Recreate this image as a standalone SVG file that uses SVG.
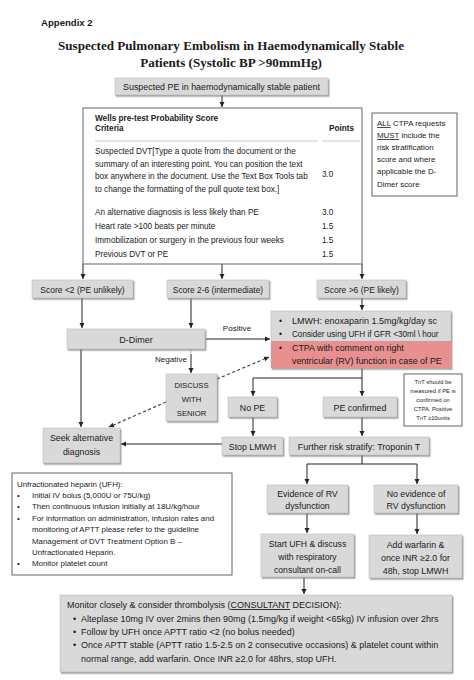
<svg xmlns="http://www.w3.org/2000/svg" width="474" height="680" viewBox="0 0 474 680">
<style>
text{font-family:"Liberation Sans","Noto Sans",sans-serif;fill:#1a1a1a;font-size:8.8px}
.c{text-anchor:middle}
.box{fill:#d9d9d9;stroke:#bdbdbd;stroke-width:0.6}
.wbox{fill:#fff;stroke:#555;stroke-width:0.9}
.ln{stroke:#222;stroke-width:1;fill:none}
.dash{stroke:#444;stroke-width:1.2;fill:none;stroke-dasharray:3 2.5}
.dot{stroke:#555;stroke-width:1;fill:none;stroke-dasharray:1 1.5}
.w{font-size:8.2px}
.n{font-size:7.9px}
.u{font-size:7.9px}
.lab{font-size:8.1px}
.s6{font-size:5.8px}
.m{font-size:9px}
</style>
<defs>
<marker id="ah" markerWidth="6" markerHeight="6" refX="5" refY="3" orient="auto" markerUnits="userSpaceOnUse">
<path d="M0,0.5 L5,3 L0,5.5 Z" fill="#222"/>
</marker>
<filter id="sh" x="-10%" y="-10%" width="130%" height="140%">
<feDropShadow dx="1.2" dy="1.5" stdDeviation="0.7" flood-color="#777" flood-opacity="0.7"/>
</filter>
</defs>
<rect width="474" height="680" fill="#fff"/>

<g id="title">
<text x="41" y="26" style="font-weight:bold;font-size:9.6px">Appendix 2</text>
<text x="231" y="50" class="c" style="font-family:'Liberation Serif',serif;font-weight:bold;font-size:13.1px">Suspected Pulmonary Embolism in Haemodynamically Stable</text>
<text x="231" y="67" class="c" style="font-family:'Liberation Serif',serif;font-weight:bold;font-size:13.1px">Patients (Systolic BP &gt;90mmHg)</text>
</g>

<g id="connectors">
<path class="ln" d="M222,95 V107" marker-end="url(#ah)"/>
<path class="ln" d="M83,264 V279" marker-end="url(#ah)"/>
<path class="ln" d="M222,255 V279" marker-end="url(#ah)"/>
<path class="ln" d="M362,264 V279" marker-end="url(#ah)"/>
<path class="ln" d="M82,298 V328" marker-end="url(#ah)"/>
<path class="ln" d="M191,298 V328" marker-end="url(#ah)"/>
<path class="dot" d="M191,329 V354"/>
<path class="ln" d="M191,354 V373" marker-end="url(#ah)"/>
<path class="ln" d="M81,349 V427" marker-end="url(#ah)"/>
<path class="ln" d="M205,339 H270" marker-end="url(#ah)"/>
<path class="dash" d="M217,379 L269,357" marker-end="url(#ah)"/>
<path class="dash" d="M166,402 L109,427" marker-end="url(#ah)"/>
<path class="ln" d="M362,298 V310" marker-end="url(#ah)"/>
<path class="ln" d="M362,368 V396" marker-end="url(#ah)"/>
<path class="ln" d="M362,378 H253 V396" marker-end="url(#ah)"/>
<path class="ln" d="M253,417 V436" marker-end="url(#ah)"/>
<path class="ln" d="M222,444 H121" marker-end="url(#ah)"/>
<path class="ln" d="M362,417 V436" marker-end="url(#ah)"/>
<path class="ln" d="M362,455 V464"/>
<path class="ln" d="M307,464 H417"/>
<path class="ln" d="M307,464 V484" marker-end="url(#ah)"/>
<path class="ln" d="M417,464 V484" marker-end="url(#ah)"/>
<path class="ln" d="M307,513 V533" marker-end="url(#ah)"/>
<path class="ln" d="M417,513 V534" marker-end="url(#ah)"/>
<path class="ln" d="M304,577 V594" marker-end="url(#ah)"/>
<text x="237" y="331" class="c lab">Positive</text>
<text x="171" y="362" class="c lab">Negative</text>
</g>

<g id="start">
<rect x="115" y="78" width="213" height="17" class="box" filter="url(#sh)"/>
<text x="221.5" y="89.8" class="c" style="font-size:8.9px">Suspected PE in haemodynamically stable patient</text>
</g>

<g id="wells">
<rect x="83" y="108" width="279" height="156" class="wbox"/>
<text x="95" y="121" class="w" style="font-weight:bold">Wells pre-test Probability Score</text>
<text x="95" y="131" class="w" style="font-weight:bold">Criteria</text>
<text x="329" y="131" class="w" style="font-weight:bold">Points</text>
<path d="M95,141 H318 M322,141 H360" stroke="#bbb" stroke-width="0.8"/>
<text x="95" y="154" class="w">Suspected DVT[Type a quote from the document or the</text>
<text x="95" y="166.5" class="w">summary of an interesting point. You can position the text</text>
<text x="95" y="179" class="w">box anywhere in the document. Use the Text Box Tools tab</text>
<text x="95" y="191.5" class="w">to change the formatting of the pull quote text box.]</text>
<text x="322" y="177" class="w">3.0</text>
<text x="95" y="215" class="w">An alternative diagnosis is less likely than PE</text>
<text x="322" y="215" class="w">3.0</text>
<text x="95" y="229" class="w">Heart rate &gt;100 beats per minute</text>
<text x="322" y="229" class="w">1.5</text>
<text x="95" y="243" class="w">Immobilization or surgery in the previous four weeks</text>
<text x="322" y="243" class="w">1.5</text>
<text x="95" y="257" class="w">Previous DVT or PE</text>
<text x="322" y="257" class="w">1.5</text>
</g>

<g id="ctpa-note">
<rect x="372" y="113" width="85" height="83" class="wbox"/>
<text x="377" y="126" class="n"><tspan text-decoration="underline">ALL</tspan> CTPA requests</text>
<text x="377" y="138" class="n"><tspan text-decoration="underline">MUST</tspan> include  the</text>
<text x="377" y="150" class="n">risk stratification</text>
<text x="377" y="162" class="n">score and where</text>
<text x="377" y="174" class="n">applicable the D-</text>
<text x="377" y="187" class="n">Dimer score</text>
</g>

<g id="score-low">
<rect x="32" y="280" width="101" height="18" class="box" filter="url(#sh)"/>
<text x="82.5" y="292.5" class="c" style="font-size:8.5px">Score &lt;2 (PE unlikely)</text>
</g>
<g id="score-mid">
<rect x="167" y="280" width="102" height="18" class="box" filter="url(#sh)"/>
<text x="218" y="292.5" class="c" style="font-size:8.4px">Score 2-6 (intermediate)</text>
</g>
<g id="score-high">
<rect x="317" y="280" width="89" height="18" class="box" filter="url(#sh)"/>
<text x="361.5" y="292.5" class="c" style="font-size:8.5px">Score &gt;6 (PE likely)</text>
</g>

<g id="ddimer">
<rect x="67" y="329" width="138" height="20" class="box" filter="url(#sh)"/>
<text x="136" y="342.5" class="c" style="font-size:9px">D-Dimer</text>
</g>

<g id="lmwh">
<rect x="271" y="311" width="180" height="57" class="box" filter="url(#sh)"/>
<rect x="271" y="341" width="180" height="27" fill="#e88f8f"/>
<text x="279" y="323.5" style="font-size:8.5px">•</text>
<text x="292" y="323.5" style="font-size:9px">LMWH: enoxaparin 1.5mg/kg/day sc</text>
<text x="279" y="336.5" style="font-size:8.5px">•</text>
<text x="292" y="336.5" style="font-size:8.15px">Consider using UFH if GFR &lt;30ml \ hour</text>
<text x="279" y="350.5" style="font-size:8.5px">•</text>
<text x="292" y="350.5" style="font-size:8.9px">CTPA with comment on right</text>
<text x="292" y="363.5" style="font-size:8.9px">ventricular (RV) function in case of PE</text>
</g>

<g id="discuss">
<rect x="166" y="374" width="51" height="47" class="box" filter="url(#sh)"/>
<text x="191.5" y="387.5" class="c" style="font-size:7.7px">DISCUSS</text>
<text x="191.5" y="401.5" class="c" style="font-size:7.7px">WITH</text>
<text x="191.5" y="415.5" class="c" style="font-size:7.7px">SENIOR</text>
</g>

<g id="seek">
<rect x="43" y="428" width="77" height="35" class="box" filter="url(#sh)"/>
<text x="81.5" y="441" class="c">Seek alternative</text>
<text x="81.5" y="455" class="c">diagnosis</text>
</g>

<g id="no-pe">
<rect x="228" y="397" width="49" height="20" class="box" filter="url(#sh)"/>
<text x="252.5" y="410.5" class="c">No PE</text>
</g>

<g id="pe-confirmed">
<rect x="323" y="397" width="74" height="20" class="box" filter="url(#sh)"/>
<text x="360" y="410.5" class="c">PE confirmed</text>
</g>

<g id="tnt-note">
<rect x="404" y="374" width="58" height="52" class="wbox"/>
<text x="433" y="383.5" class="c s6">TnT should be</text>
<text x="433" y="392.5" class="c s6">measured if PE is</text>
<text x="433" y="401.5" class="c s6">confirmed on</text>
<text x="433" y="410.5" class="c s6">CTPA. Positive</text>
<text x="433" y="419.5" class="c s6">TnT ≥10units</text>
</g>

<g id="stop-lmwh">
<rect x="222" y="437" width="61" height="18" class="box" filter="url(#sh)"/>
<text x="252.5" y="449.5" class="c">Stop LMWH</text>
</g>

<g id="troponin">
<rect x="289" y="437" width="140" height="18" class="box" filter="url(#sh)"/>
<text x="359" y="449.5" class="c" style="font-size:9px">Further risk stratify: Troponin T</text>
</g>

<g id="rv-yes">
<rect x="267" y="485" width="81" height="28" class="box" filter="url(#sh)"/>
<text x="307.5" y="496.5" class="c">Evidence of RV</text>
<text x="307.5" y="509" class="c">dysfunction</text>
</g>

<g id="rv-no">
<rect x="374" y="485" width="84" height="28" class="box" filter="url(#sh)"/>
<text x="416" y="496.5" class="c">No evidence of</text>
<text x="416" y="509" class="c">RV dysfunction</text>
</g>

<g id="start-ufh">
<rect x="261" y="534" width="93" height="43" class="box" filter="url(#sh)"/>
<text x="307.5" y="546.5" class="c" style="font-size:8.6px">Start UFH &amp; discuss</text>
<text x="307.5" y="560" class="c" style="font-size:8.6px">with respiratory</text>
<text x="307.5" y="573" class="c" style="font-size:8.6px">consultant on-call</text>
</g>

<g id="warfarin">
<rect x="369" y="535" width="93" height="43" class="box" filter="url(#sh)"/>
<text x="415.5" y="547.5" class="c">Add warfarin &amp;</text>
<text x="415.5" y="561" class="c">once INR ≥2.0 for</text>
<text x="415.5" y="574" class="c">48h, stop LMWH</text>
</g>

<g id="ufh-info">
<rect x="12" y="473" width="220" height="102" class="wbox"/>
<text x="17" y="487" class="u">Unfractionated heparin (UFH):</text>
<text x="17" y="497.5" class="u">•</text>
<text x="32" y="497.5" class="u">Initial IV bolus (5,000U or 75U/kg)</text>
<text x="17" y="509" class="u">•</text>
<text x="32" y="509" class="u">Then continuous infusion initially at 18U/kg/hour</text>
<text x="17" y="520.5" class="u">•</text>
<text x="32" y="520.5" class="u">For information on administration, infusion rates and</text>
<text x="32" y="532" class="u">monitoring of APTT please refer to the guideline</text>
<text x="32" y="543.5" class="u">Management of DVT Treatment Option B –</text>
<text x="32" y="555" class="u">Unfractionated Heparin.</text>
<text x="17" y="566" class="u">•</text>
<text x="32" y="566" class="u">Monitor platelet count</text>
</g>

<g id="thrombolysis">
<rect x="60" y="595" width="392" height="77" class="box" filter="url(#sh)"/>
<text x="67" y="608" class="m">Monitor closely &amp; consider thrombolysis (<tspan text-decoration="underline">CONSULTANT</tspan> DECISION):</text>
<text x="73" y="621.5" class="m">•</text>
<text x="81" y="621.5" class="m">Alteplase 10mg IV over 2mins then 90mg (1.5mg/kg if weight &lt;65kg) IV infusion over 2hrs</text>
<text x="73" y="634.5" class="m">•</text>
<text x="81" y="634.5" class="m">Follow by UFH once APTT ratio &lt;2 (no bolus needed)</text>
<text x="73" y="648" class="m">•</text>
<text x="81" y="648" class="m">Once APTT stable (APTT ratio 1.5-2.5 on 2 consecutive occasions) &amp; platelet count within</text>
<text x="81" y="662" class="m">normal range, add warfarin. Once INR ≥2.0 for 48hrs, stop UFH.</text>
</g>
</svg>
